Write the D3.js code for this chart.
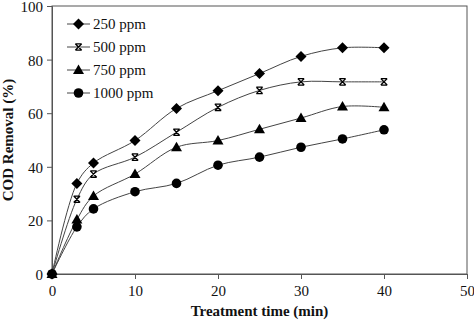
<!DOCTYPE html>
<html><head><meta charset="utf-8">
<script src="https://cdn.jsdelivr.net/npm/d3@7"></script>
<style>body{margin:0;background:#fff}svg{display:block}</style>
</head><body><svg id="c" width="474" height="322"></svg>
<script>
const times = [0, 3, 5, 10, 15, 20, 25, 30, 35, 40];
const s250 = [0, 33.8, 41.4, 49.8, 61.8, 68.4, 74.8, 81.2, 84.4, 84.4];
const s500 = [0, 27.9, 37.3, 43.6, 52.9, 62.2, 68.5, 71.7, 71.7, 71.7];
const s750 = [0, 20.3, 29.1, 37.3, 47.3, 49.8, 54.0, 58.2, 62.5, 62.2];
const s1000 = [0, 17.6, 24.3, 30.7, 33.8, 40.6, 43.6, 47.3, 50.4, 53.8];
const seriesNames = ["250 ppm", "500 ppm", "750 ppm", "1000 ppm"];
const markers = ["diamond", "star", "triangle", "circle"];
const xTicks = [0, 10, 20, 30, 40, 50];
const yTicks = [0, 20, 40, 60, 80, 100];
const xTitle = "Treatment time (min)";
const yTitle = "COD Removal (%)";

const FONT = '"Liberation Serif", "Times New Roman", serif';
const series = [s250, s500, s750, s1000].map((v, i) => ({name: seriesNames[i], marker: markers[i], values: v.map((y, j) => ({x: times[j], y}))}));

const svg = d3.select("#c");
const L = 52, R = 467, T = 6, B = 274;
const x = d3.scaleLinear().domain([0, 50]).range([L, R]);
const y = d3.scaleLinear().domain([0, 100]).range([B, T]);

svg.append("rect").attr("x", L).attr("y", T).attr("width", R - L).attr("height", B - T)
  .attr("fill", "none").attr("stroke", "#555").attr("stroke-width", 1);

const xa = svg.append("g").attr("transform", `translate(0,${B})`)
  .call(d3.axisBottom(x).tickValues(xTicks).tickSize(5).tickPadding(6).tickFormat(d3.format("d")));
const ya = svg.append("g").attr("transform", `translate(${L},0)`)
  .call(d3.axisLeft(y).tickValues(yTicks).tickSize(5).tickPadding(4).tickFormat(d3.format("d")));
[xa, ya].forEach(g => {
  g.attr("font-family", null);
  g.select(".domain").attr("stroke", "#555");
  g.selectAll(".tick line").attr("stroke", "#555");
  g.selectAll("text").style("font-family", FONT).style("font-size", "15px").attr("fill", "#111");
});
ya.selectAll("text").attr("dy", "0.36em");

svg.append("text").attr("x", (L + R) / 2).attr("y", 316).attr("text-anchor", "middle")
  .style("font-family", FONT).style("font-weight", "bold").style("font-size", "15px").attr("fill", "#111").text(xTitle);
svg.append("text").attr("transform", `translate(13,${(T + B) / 2}) rotate(-90)`).attr("text-anchor", "middle")
  .style("font-family", FONT).style("font-weight", "bold").style("font-size", "15px").attr("fill", "#111").text(yTitle);

function drawMarker(g, type, cx, cy) {
  if (type === "diamond") {
    g.append("path").attr("d", `M${cx},${cy - 5.5}L${cx + 5.5},${cy}L${cx},${cy + 5.5}L${cx - 5.5},${cy}Z`).attr("fill", "#000");
  } else if (type === "triangle") {
    g.append("path").attr("d", `M${cx},${cy - 5.5}L${cx + 5.5},${cy + 4}L${cx - 5.5},${cy + 4}Z`).attr("fill", "#000");
  } else if (type === "circle") {
    g.append("circle").attr("cx", cx).attr("cy", cy).attr("r", 4.8).attr("fill", "#000");
  } else {
    const r = 3.2;
    g.append("path").attr("d", `M${cx - r},${cy - r}L${cx + r},${cy + r}M${cx - r},${cy + r}L${cx + r},${cy - r}M${cx - r},${cy - r}L${cx + r},${cy - r}M${cx - r},${cy + r}L${cx + r},${cy + r}`)
      .attr("stroke", "#000").attr("stroke-width", 1.3).attr("fill", "none");
  }
}

const line = d3.line().x(d => x(d.x)).y(d => y(d.y)).curve(d3.curveCatmullRom.alpha(0.5));
series.forEach(s => {
  svg.append("path").datum(s.values).attr("d", line).attr("fill", "none").attr("stroke", "#444").attr("stroke-width", 1);
});
series.forEach(s => {
  const g = svg.append("g");
  s.values.forEach(d => drawMarker(g, s.marker, x(d.x), y(d.y)));
});

const leg = svg.append("g");
series.forEach((s, i) => {
  const ly = 24 + i * 23;
  leg.append("line").attr("x1", 67).attr("x2", 90).attr("y1", ly).attr("y2", ly).attr("stroke", "#444");
  drawMarker(leg, s.marker, 78.5, ly);
  leg.append("text").attr("x", 93).attr("y", ly + 5).style("font-family", FONT).style("font-size", "15px").attr("fill", "#111").text(s.name);
});
</script></body></html>
